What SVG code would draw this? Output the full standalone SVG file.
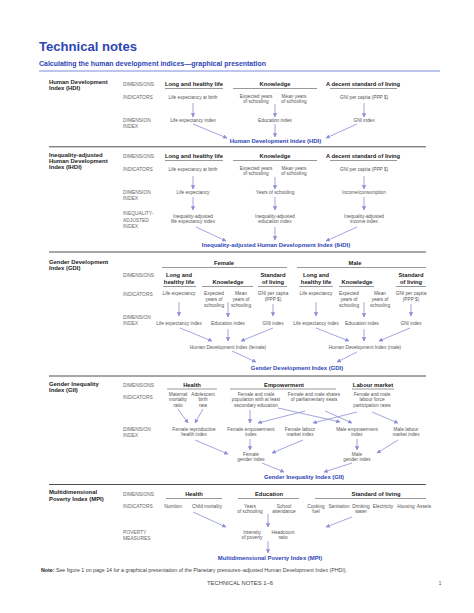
<svg xmlns="http://www.w3.org/2000/svg" width="474" height="613" viewBox="0 0 474 613">
<defs>
<marker id="ah" viewBox="0 0 10 10" refX="9" refY="5" markerWidth="4.2" markerHeight="4.2" markerUnits="userSpaceOnUse" orient="auto"><path d="M0,0 L10,5 L0,10 z" fill="#8b8ed6"/></marker>
<style>
text{font-family:"Liberation Sans",Arial,sans-serif}
.t{font-size:4.75px;fill:#555;text-anchor:middle}
.r{font-size:4.9px;fill:#666}
.h{font-size:5.8px;font-weight:bold;fill:#222;text-anchor:middle}
.s{font-size:5.9px;font-weight:bold;fill:#222}
.b{font-size:5.9px;font-weight:bold;fill:#2f45b5;text-anchor:middle}
.u{stroke:#555;stroke-width:0.6}
.d{stroke:#3a3a3a;stroke-width:0.9}
.a{stroke:#8b8ed6;stroke-width:0.8;fill:none;marker-end:url(#ah)}
</style>
</defs>
<rect width="474" height="613" fill="#fff"/>
<g id="header">
<text x="39" y="50.5" font-size="13" font-weight="bold" fill="#2f45b5" textLength="98" lengthAdjust="spacingAndGlyphs">Technical notes</text>
<text x="39" y="65.5" font-size="6.4" font-weight="bold" fill="#2f45b5" textLength="227" lengthAdjust="spacingAndGlyphs">Calculating the human development indices—graphical presentation</text>
<line x1="39" y1="71" x2="440" y2="71" stroke="#5a6fd0" stroke-width="0.8"/>
</g>
<g id="dividers">
<line class="d" x1="49" y1="146.8" x2="426" y2="146.8"/>
<line class="d" x1="49" y1="252" x2="426" y2="252"/>
<line class="d" x1="49" y1="376" x2="426" y2="376"/>
<line class="d" x1="49" y1="484.5" x2="426" y2="484.5"/>
</g>

<!-- HDI -->
<g id="hdi">
<g id="hdi-label"><text class="s" x="49" y="84">Human Development<tspan x="49" dy="6">Index (HDI)</tspan></text></g>
<g id="hdi-rows"><text class="r" x="123" y="86">DIMENSIONS</text><text class="r" x="123" y="99">INDICATORS</text><text class="r" x="123" y="121.5">DIMENSION<tspan x="123" dy="6">INDEX</tspan></text></g>
<g id="hdi-dim-health"><text class="h" x="194" y="85.8">Long and healthy life</text><line class="u" x1="165" y1="88.5" x2="223" y2="88.5"/></g>
<g id="hdi-dim-knowledge"><text class="h" x="275" y="85.8">Knowledge</text><line class="u" x1="233" y1="88.5" x2="317" y2="88.5"/></g>
<g id="hdi-dim-living"><text class="h" x="363" y="85.8">A decent standard of living</text><line class="u" x1="330" y1="88.5" x2="397" y2="88.5"/></g>
<g id="hdi-ind-le"><text class="t" x="193" y="98.8">Life expectancy at birth</text></g>
<g id="hdi-ind-eys"><text class="t" x="256" y="97.8">Expected years<tspan x="256" dy="5">of schooling</tspan></text></g>
<g id="hdi-ind-mys"><text class="t" x="294" y="97.8">Mean years<tspan x="294" dy="5">of schooling</tspan></text></g>
<g id="hdi-ind-gni"><text class="t" x="364" y="98.8">GNI per capita (PPP $)</text></g>
<g id="hdi-idx-le"><text class="t" x="193" y="121.8">Life expectancy index</text></g>
<g id="hdi-idx-edu"><text class="t" x="275" y="121.8">Education index</text></g>
<g id="hdi-idx-gni"><text class="t" x="364" y="121.8">GNI index</text></g>
<g id="hdi-result"><text class="b" x="275.5" y="142.5">Human Development Index (HDI)</text></g>
</g>

<!-- IHDI -->
<g id="ihdi">
<g id="ihdi-label"><text class="s" x="49" y="157">Inequality-adjusted<tspan x="49" dy="6">Human Development</tspan><tspan x="49" dy="6">Index (IHDI)</tspan></text></g>
<g id="ihdi-rows"><text class="r" x="123" y="158">DIMENSIONS</text><text class="r" x="123" y="171">INDICATORS</text><text class="r" x="123" y="193.5">DIMENSION<tspan x="123" dy="6">INDEX</tspan></text><text class="r" x="123" y="215">INEQUALITY-<tspan x="123" dy="6.5">ADJUSTED</tspan><tspan x="123" dy="6.5">INDEX</tspan></text></g>
<g id="ihdi-dim-health"><text class="h" x="194" y="157.5">Long and healthy life</text><line class="u" x1="165" y1="160.5" x2="223" y2="160.5"/></g>
<g id="ihdi-dim-knowledge"><text class="h" x="275" y="157.5">Knowledge</text><line class="u" x1="233" y1="160.5" x2="317" y2="160.5"/></g>
<g id="ihdi-dim-living"><text class="h" x="363" y="157.5">A decent standard of living</text><line class="u" x1="330" y1="160.5" x2="397" y2="160.5"/></g>
<g id="ihdi-ind-le"><text class="t" x="193" y="170.5">Life expectancy at birth</text></g>
<g id="ihdi-ind-eys"><text class="t" x="256" y="170">Expected years<tspan x="256" dy="5">of schooling</tspan></text></g>
<g id="ihdi-ind-mys"><text class="t" x="294" y="170">Mean years<tspan x="294" dy="5">of schooling</tspan></text></g>
<g id="ihdi-ind-gni"><text class="t" x="364" y="170.5">GNI per capita (PPP $)</text></g>
<g id="ihdi-dv-le"><text class="t" x="193" y="193.5">Life expectancy</text></g>
<g id="ihdi-dv-ys"><text class="t" x="275" y="193.5">Years of schooling</text></g>
<g id="ihdi-dv-inc"><text class="t" x="364" y="193.5">Income/consumption</text></g>
<g id="ihdi-ia-le"><text class="t" x="193" y="217.5">Inequality-adjusted<tspan x="193" dy="5.5">life expectancy index</tspan></text></g>
<g id="ihdi-ia-edu"><text class="t" x="275" y="217.5">Inequality-adjusted<tspan x="275" dy="5.5">education index</tspan></text></g>
<g id="ihdi-ia-inc"><text class="t" x="364" y="217.5">Inequality-adjusted<tspan x="364" dy="5.5">income index</tspan></text></g>
<g id="ihdi-result"><text class="b" x="276" y="246.5">Inequality-adjusted Human Development Index (IHDI)</text></g>
</g>

<!-- GDI -->
<g id="gdi">
<g id="gdi-label"><text class="s" x="49" y="264">Gender Development<tspan x="49" dy="6">Index (GDI)</tspan></text></g>
<g id="gdi-rows"><text class="r" x="123" y="277">DIMENSIONS</text><text class="r" x="123" y="295.5">INDICATORS</text><text class="r" x="123" y="318.5">DIMENSION<tspan x="123" dy="6.3">INDEX</tspan></text></g>
<g id="gdi-female"><text class="h" x="224" y="265">Female</text><line class="u" x1="162" y1="267.5" x2="287" y2="267.5"/></g>
<g id="gdi-male"><text class="h" x="355" y="265">Male</text><line class="u" x1="297" y1="267.5" x2="426" y2="267.5"/></g>
<g id="gdi-f-health"><text class="h" x="179" y="277">Long and<tspan x="179" dy="7">healthy life</tspan></text><line class="u" x1="163" y1="286.5" x2="196" y2="286.5"/></g>
<g id="gdi-f-knowledge"><text class="h" x="228" y="284">Knowledge</text><line class="u" x1="202" y1="286.5" x2="253" y2="286.5"/></g>
<g id="gdi-f-living"><text class="h" x="273" y="277">Standard<tspan x="273" dy="7">of living</tspan></text><line class="u" x1="258" y1="286.5" x2="287" y2="286.5"/></g>
<g id="gdi-m-health"><text class="h" x="316" y="277">Long and<tspan x="316" dy="7">healthy life</tspan></text><line class="u" x1="299" y1="286.5" x2="333" y2="286.5"/></g>
<g id="gdi-m-knowledge"><text class="h" x="357" y="284">Knowledge</text><line class="u" x1="339" y1="286.5" x2="374" y2="286.5"/></g>
<g id="gdi-m-living"><text class="h" x="411" y="277">Standard<tspan x="411" dy="7">of living</tspan></text><line class="u" x1="396" y1="286.5" x2="426" y2="286.5"/></g>
<g id="gdi-f-le"><text class="t" x="179" y="295.3">Life expectancy</text></g>
<g id="gdi-f-eys"><text class="t" x="214" y="295.3">Expected<tspan x="214" dy="5.8">years of</tspan><tspan x="214" dy="5.8">schooling</tspan></text></g>
<g id="gdi-f-mys"><text class="t" x="241" y="295.3">Mean<tspan x="241" dy="5.8">years of</tspan><tspan x="241" dy="5.8">schooling</tspan></text></g>
<g id="gdi-f-gni"><text class="t" x="273" y="295.3">GNI per capita<tspan x="273" dy="5.8">(PPP $)</tspan></text></g>
<g id="gdi-m-le"><text class="t" x="316" y="295.3">Life expectancy</text></g>
<g id="gdi-m-eys"><text class="t" x="349" y="295.3">Expected<tspan x="349" dy="5.8">years of</tspan><tspan x="349" dy="5.8">schooling</tspan></text></g>
<g id="gdi-m-mys"><text class="t" x="380" y="295.3">Mean<tspan x="380" dy="5.8">years of</tspan><tspan x="380" dy="5.8">schooling</tspan></text></g>
<g id="gdi-m-gni"><text class="t" x="411" y="295.3">GNI per capita<tspan x="411" dy="5.8">(PPP $)</tspan></text></g>
<g id="gdi-f-lei"><text class="t" x="179" y="325">Life expectancy index</text></g>
<g id="gdi-f-edi"><text class="t" x="228" y="325">Education index</text></g>
<g id="gdi-f-gnii"><text class="t" x="273" y="325">GNI index</text></g>
<g id="gdi-m-lei"><text class="t" x="316" y="325">Life expectancy index</text></g>
<g id="gdi-m-edi"><text class="t" x="362" y="325">Education index</text></g>
<g id="gdi-m-gnii"><text class="t" x="411" y="325">GNI index</text></g>
<g id="gdi-f-hdi"><text class="t" x="228" y="348.7">Human Development Index (female)</text></g>
<g id="gdi-m-hdi"><text class="t" x="365" y="348.7">Human Development Index (male)</text></g>
<g id="gdi-result"><text class="b" x="297" y="369.7">Gender Development Index (GDI)</text></g>
</g>

<!-- GII -->
<g id="gii">
<g id="gii-label"><text class="s" x="49" y="386">Gender Inequality<tspan x="49" dy="6">Index (GII)</tspan></text></g>
<g id="gii-rows"><text class="r" x="123" y="387">DIMENSIONS</text><text class="r" x="123" y="399">INDICATORS</text><text class="r" x="123" y="430.5">DIMENSION<tspan x="123" dy="6.3">INDEX</tspan></text></g>
<g id="gii-dim-health"><text class="h" x="192" y="386.5">Health</text><line class="u" x1="167" y1="389" x2="217" y2="389"/></g>
<g id="gii-dim-emp"><text class="h" x="284" y="386.5">Empowerment</text><line class="u" x1="230" y1="389" x2="336" y2="389"/></g>
<g id="gii-dim-labour"><text class="h" x="373" y="386.5">Labour market</text><line class="u" x1="352" y1="389" x2="394" y2="389"/></g>
<g id="gii-ind-mmr"><text class="t" x="178" y="396">Maternal<tspan x="178" dy="5.3">mortality</tspan><tspan x="178" dy="5.3">ratio</tspan></text></g>
<g id="gii-ind-abr"><text class="t" x="203" y="396">Adolescent<tspan x="203" dy="5.3">birth</tspan><tspan x="203" dy="5.3">rate</tspan></text></g>
<g id="gii-ind-edu"><text class="t" x="256" y="396">Female and male<tspan x="256" dy="5.3">population with at least</tspan><tspan x="256" dy="5.3">secondary education</tspan></text></g>
<g id="gii-ind-parl"><text class="t" x="314" y="396">Female and male shares<tspan x="314" dy="5.3">of parliamentary seats</tspan></text></g>
<g id="gii-ind-lfpr"><text class="t" x="372" y="396">Female and male<tspan x="372" dy="5.3">labour force</tspan><tspan x="372" dy="5.3">participation rates</tspan></text></g>
<g id="gii-idx-frh"><text class="t" x="194" y="430.5">Female reproductive<tspan x="194" dy="5.8">health index</tspan></text></g>
<g id="gii-idx-fe"><text class="t" x="251" y="430.5">Female empowerment<tspan x="251" dy="5.8">index</tspan></text></g>
<g id="gii-idx-fl"><text class="t" x="300" y="430.5">Female labour<tspan x="300" dy="5.8">market index</tspan></text></g>
<g id="gii-idx-me"><text class="t" x="357" y="430.5">Male empowerment<tspan x="357" dy="5.8">index</tspan></text></g>
<g id="gii-idx-ml"><text class="t" x="406" y="430.5">Male labour<tspan x="406" dy="5.8">market index</tspan></text></g>
<g id="gii-fgi"><text class="t" x="251" y="455.5">Female<tspan x="251" dy="5.5">gender index</tspan></text></g>
<g id="gii-mgi"><text class="t" x="357" y="455.5">Male<tspan x="357" dy="5.5">gender index</tspan></text></g>
<g id="gii-result"><text class="b" x="304" y="478.7">Gender Inequality Index (GII)</text></g>
</g>

<!-- MPI -->
<g id="mpi">
<g id="mpi-label"><text class="s" x="49" y="494">Multidimensional<tspan x="49" dy="6.5">Poverty Index (MPI)</tspan></text></g>
<g id="mpi-rows"><text class="r" x="123" y="496">DIMENSIONS</text><text class="r" x="123" y="508">INDICATORS</text><text class="r" x="123" y="533.5">POVERTY<tspan x="123" dy="6">MEASURES</tspan></text></g>
<g id="mpi-dim-health"><text class="h" x="194" y="495.5">Health</text><line class="u" x1="166" y1="498.5" x2="222" y2="498.5"/></g>
<g id="mpi-dim-edu"><text class="h" x="269" y="495.5">Education</text><line class="u" x1="238" y1="498.5" x2="299" y2="498.5"/></g>
<g id="mpi-dim-living"><text class="h" x="376" y="495.5">Standard of living</text><line class="u" x1="315" y1="498.5" x2="426" y2="498.5"/></g>
<g id="mpi-ind-nut"><text class="t" x="173" y="507.8">Nutrition</text></g>
<g id="mpi-ind-cm"><text class="t" x="207" y="507.8">Child mortality</text></g>
<g id="mpi-ind-ys"><text class="t" x="250" y="507.5">Years<tspan x="250" dy="5.3">of schooling</tspan></text></g>
<g id="mpi-ind-sa"><text class="t" x="284" y="507.5">School<tspan x="284" dy="5.3">attendance</tspan></text></g>
<g id="mpi-ind-cf"><text class="t" x="316" y="507.5">Cooking<tspan x="316" dy="5.3">fuel</tspan></text></g>
<g id="mpi-ind-san"><text class="t" x="339" y="507.5">Sanitation</text></g>
<g id="mpi-ind-dw"><text class="t" x="361" y="507.5">Drinking<tspan x="361" dy="5.3">water</tspan></text></g>
<g id="mpi-ind-el"><text class="t" x="383" y="507.5">Electricity</text></g>
<g id="mpi-ind-ho"><text class="t" x="406" y="507.5">Housing</text></g>
<g id="mpi-ind-as"><text class="t" x="424" y="507.5">Assets</text></g>
<g id="mpi-pm-int"><text class="t" x="252" y="533.5">Intensity<tspan x="252" dy="5.5">of poverty</tspan></text></g>
<g id="mpi-pm-hc"><text class="t" x="283" y="533.5">Headcount<tspan x="283" dy="5.5">ratio</tspan></text></g>
<g id="mpi-result"><text class="b" x="270" y="559.7">Multidimensional Poverty Index (MPI)</text></g>
</g>

<g id="connectors">
<line class="a" x1="193" y1="103" x2="193" y2="117"/>
<line class="a" x1="275" y1="104" x2="275" y2="117"/>
<line class="a" x1="364" y1="103" x2="364" y2="117"/>
<line class="a" x1="193" y1="124" x2="227" y2="138"/>
<line class="a" x1="275" y1="124" x2="275" y2="137"/>
<line class="a" x1="357" y1="124" x2="326" y2="138"/>

<line class="a" x1="193" y1="176" x2="193" y2="189"/>
<line class="a" x1="275" y1="177" x2="275" y2="189"/>
<line class="a" x1="364" y1="176" x2="364" y2="189"/>
<line class="a" x1="193" y1="197" x2="193" y2="210"/>
<line class="a" x1="275" y1="197" x2="275" y2="210"/>
<line class="a" x1="364" y1="197" x2="364" y2="210"/>
<line class="a" x1="196" y1="227" x2="226" y2="241"/>
<line class="a" x1="275" y1="227" x2="275" y2="240"/>
<line class="a" x1="357" y1="227" x2="326" y2="241"/>

<line class="a" x1="179" y1="302" x2="179" y2="316"/>
<line class="a" x1="228" y1="302" x2="228" y2="317"/>
<line class="a" x1="273" y1="304" x2="273" y2="316"/>
<line class="a" x1="316" y1="302" x2="316" y2="316"/>
<line class="a" x1="364" y1="302" x2="364" y2="317"/>
<line class="a" x1="411" y1="304" x2="411" y2="316"/>
<line class="a" x1="180" y1="328" x2="212" y2="341"/>
<line class="a" x1="228" y1="329" x2="228" y2="341"/>
<line class="a" x1="273" y1="328" x2="241" y2="341"/>
<line class="a" x1="316" y1="328" x2="349" y2="341"/>
<line class="a" x1="364" y1="329" x2="364" y2="341"/>
<line class="a" x1="410" y1="328" x2="379" y2="341"/>
<line class="a" x1="232" y1="351" x2="256" y2="362"/>
<line class="a" x1="357" y1="352" x2="337" y2="362"/>

<line class="a" x1="178" y1="409" x2="188" y2="423"/>
<line class="a" x1="203" y1="409" x2="195" y2="423"/>
<line class="a" x1="250" y1="410" x2="250" y2="423"/>
<line class="a" x1="278" y1="408" x2="340" y2="422"/>
<line class="a" x1="305" y1="411" x2="258" y2="423"/>
<line class="a" x1="325" y1="411" x2="352" y2="423"/>
<line class="a" x1="357" y1="412" x2="313" y2="423"/>
<line class="a" x1="372" y1="412" x2="398" y2="423"/>
<line class="a" x1="195" y1="440" x2="228" y2="454"/>
<line class="a" x1="250" y1="439" x2="250" y2="450"/>
<line class="a" x1="303" y1="440" x2="272" y2="453"/>
<line class="a" x1="357" y1="439" x2="357" y2="450"/>
<line class="a" x1="398" y1="440" x2="377" y2="453"/>
<line class="a" x1="262" y1="463" x2="284" y2="472"/>
<line class="a" x1="352" y1="463" x2="324" y2="472"/>

<line class="a" x1="193" y1="512" x2="226" y2="527"/>
<line class="a" x1="268" y1="514" x2="268" y2="527"/>
<line class="a" x1="352" y1="517" x2="326" y2="527"/>
<line class="a" x1="268" y1="541" x2="268" y2="553"/>
</g>

<g id="footer">
<text x="41" y="571.5" font-size="5" fill="#444" textLength="306" lengthAdjust="spacingAndGlyphs"><tspan font-weight="bold" fill="#222">Note:</tspan> See figure 1 on page 14 for a graphical presentation of the Planetary pressures–adjusted Human Development Index (PHDI).</text>
<text x="240" y="584.8" font-size="4.6" fill="#444" text-anchor="middle" textLength="66" lengthAdjust="spacingAndGlyphs">TECHNICAL NOTES 1–6</text>
<text x="440" y="584.8" font-size="4.6" fill="#444" text-anchor="middle">1</text>
</g>
</svg>
